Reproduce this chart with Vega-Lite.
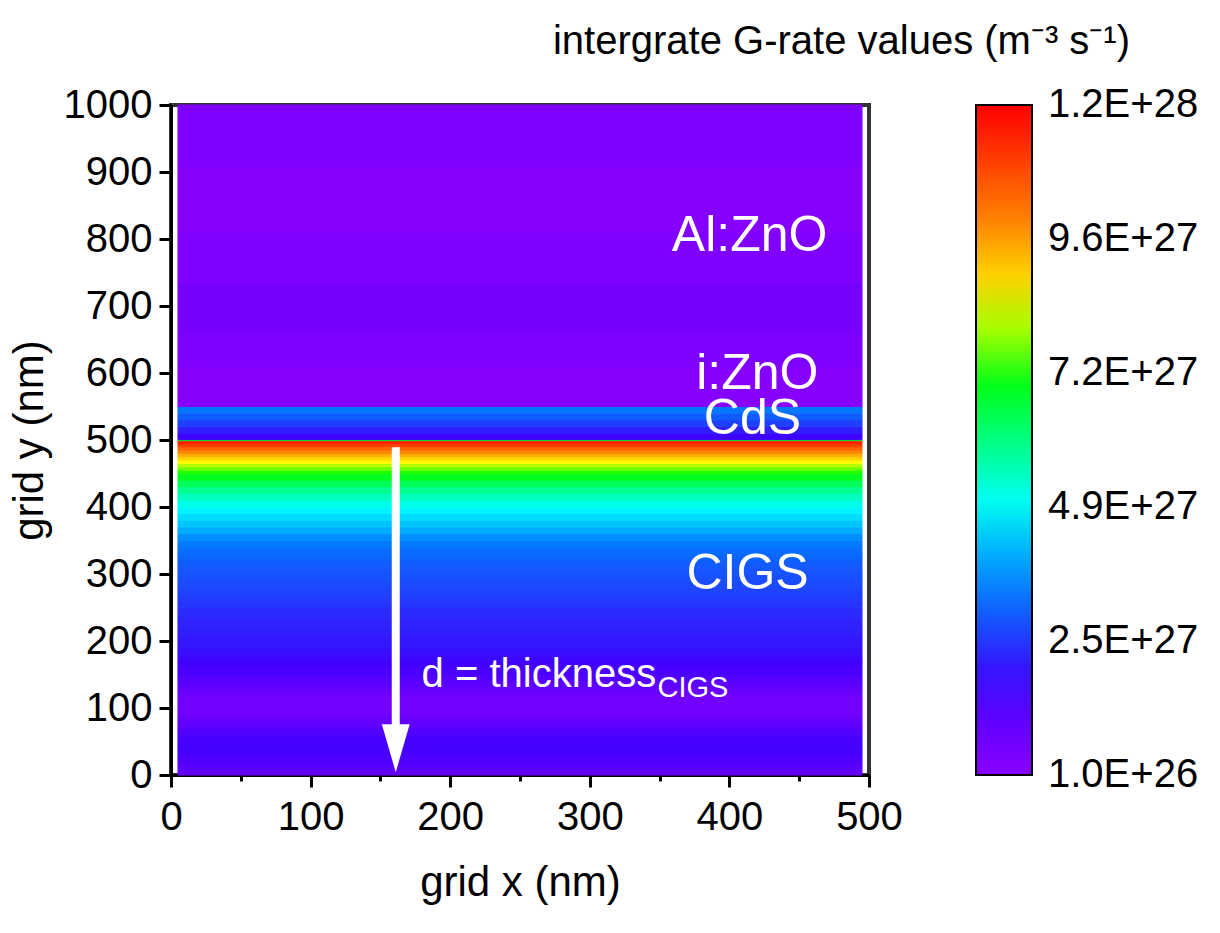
{
  "$schema": "https://vega.github.io/schema/vega-lite/v6.json",
  "width": 698,
  "height": 670,
  "autosize": {"type": "none"},
  "padding": {"left": 171, "top": 105, "right": 351, "bottom": 158},
  "background": "white",
  "config": {
    "font": "Liberation Sans",
    "view": {"stroke": "#333333", "strokeWidth": 4}
  },
  "title": {
    "text": "intergrate G-rate values (m⁻³ s⁻¹)",
    "anchor": "end",
    "frame": "group",
    "dx": 261,
    "dy": 14,
    "offset": 5,
    "fontSize": 40,
    "fontWeight": "normal",
    "color": "black",
    "baseline": "alphabetic"
  },
  "datasets": {
    "heat": [
      {"x0": 5, "x1": 495, "y0": 0, "y1": 5, "g": 9e26},
      {"x0": 5, "x1": 495, "y0": 5, "y1": 10, "g": 1.0e27},
      {"x0": 5, "x1": 495, "y0": 10, "y1": 20, "g": 1.2e27},
      {"x0": 5, "x1": 495, "y0": 20, "y1": 30, "g": 1.45e27},
      {"x0": 5, "x1": 495, "y0": 30, "y1": 40, "g": 1.6e27},
      {"x0": 5, "x1": 495, "y0": 40, "y1": 50, "g": 1.7e27},
      {"x0": 5, "x1": 495, "y0": 50, "y1": 60, "g": 1.6e27},
      {"x0": 5, "x1": 495, "y0": 60, "y1": 70, "g": 1.35e27},
      {"x0": 5, "x1": 495, "y0": 70, "y1": 80, "g": 1.05e27},
      {"x0": 5, "x1": 495, "y0": 80, "y1": 90, "g": 8.5e26},
      {"x0": 5, "x1": 495, "y0": 90, "y1": 100, "g": 6.5e26},
      {"x0": 5, "x1": 495, "y0": 100, "y1": 110, "g": 6e26},
      {"x0": 5, "x1": 495, "y0": 110, "y1": 120, "g": 6.5e26},
      {"x0": 5, "x1": 495, "y0": 120, "y1": 130, "g": 8.5e26},
      {"x0": 5, "x1": 495, "y0": 130, "y1": 140, "g": 1.1e27},
      {"x0": 5, "x1": 495, "y0": 140, "y1": 150, "g": 1.35e27},
      {"x0": 5, "x1": 495, "y0": 150, "y1": 160, "g": 1.55e27},
      {"x0": 5, "x1": 495, "y0": 160, "y1": 170, "g": 1.7e27},
      {"x0": 5, "x1": 495, "y0": 170, "y1": 180, "g": 1.85e27},
      {"x0": 5, "x1": 495, "y0": 180, "y1": 190, "g": 1.95e27},
      {"x0": 5, "x1": 495, "y0": 190, "y1": 200, "g": 2.0e27},
      {"x0": 5, "x1": 495, "y0": 200, "y1": 210, "g": 2.05e27},
      {"x0": 5, "x1": 495, "y0": 210, "y1": 220, "g": 2.1e27},
      {"x0": 5, "x1": 495, "y0": 220, "y1": 230, "g": 2.15e27},
      {"x0": 5, "x1": 495, "y0": 230, "y1": 240, "g": 2.2e27},
      {"x0": 5, "x1": 495, "y0": 240, "y1": 250, "g": 2.25e27},
      {"x0": 5, "x1": 495, "y0": 250, "y1": 260, "g": 2.35e27},
      {"x0": 5, "x1": 495, "y0": 260, "y1": 270, "g": 2.45e27},
      {"x0": 5, "x1": 495, "y0": 270, "y1": 280, "g": 2.55e27},
      {"x0": 5, "x1": 495, "y0": 280, "y1": 290, "g": 2.65e27},
      {"x0": 5, "x1": 495, "y0": 290, "y1": 300, "g": 2.75e27},
      {"x0": 5, "x1": 495, "y0": 300, "y1": 310, "g": 2.85e27},
      {"x0": 5, "x1": 495, "y0": 310, "y1": 320, "g": 2.95e27},
      {"x0": 5, "x1": 495, "y0": 320, "y1": 330, "g": 3.1e27},
      {"x0": 5, "x1": 495, "y0": 330, "y1": 340, "g": 3.25e27},
      {"x0": 5, "x1": 495, "y0": 340, "y1": 350, "g": 3.45e27},
      {"x0": 5, "x1": 495, "y0": 350, "y1": 360, "g": 3.7e27},
      {"x0": 5, "x1": 495, "y0": 360, "y1": 370, "g": 4.0e27},
      {"x0": 5, "x1": 495, "y0": 370, "y1": 380, "g": 4.25e27},
      {"x0": 5, "x1": 495, "y0": 380, "y1": 390, "g": 4.5e27},
      {"x0": 5, "x1": 495, "y0": 390, "y1": 400, "g": 4.75e27},
      {"x0": 5, "x1": 495, "y0": 400, "y1": 410, "g": 5.05e27},
      {"x0": 5, "x1": 495, "y0": 410, "y1": 420, "g": 5.45e27},
      {"x0": 5, "x1": 495, "y0": 420, "y1": 430, "g": 5.9e27},
      {"x0": 5, "x1": 495, "y0": 430, "y1": 440, "g": 6.4e27},
      {"x0": 5, "x1": 495, "y0": 440, "y1": 450, "g": 6.95e27},
      {"x0": 5, "x1": 495, "y0": 450, "y1": 455, "g": 7.4e27},
      {"x0": 5, "x1": 495, "y0": 455, "y1": 460, "g": 7.75e27},
      {"x0": 5, "x1": 495, "y0": 460, "y1": 465, "g": 8.1e27},
      {"x0": 5, "x1": 495, "y0": 465, "y1": 470, "g": 8.5e27},
      {"x0": 5, "x1": 495, "y0": 470, "y1": 475, "g": 8.9e27},
      {"x0": 5, "x1": 495, "y0": 475, "y1": 480, "g": 9.4e27},
      {"x0": 5, "x1": 495, "y0": 480, "y1": 485, "g": 9.9e27},
      {"x0": 5, "x1": 495, "y0": 485, "y1": 490, "g": 1.04e28},
      {"x0": 5, "x1": 495, "y0": 490, "y1": 495, "g": 1.1e28},
      {"x0": 5, "x1": 495, "y0": 495, "y1": 499, "g": 1.15e28},
      {"x0": 5, "x1": 495, "y0": 499, "y1": 500.5, "g": 7.0e27},
      {"x0": 5, "x1": 495, "y0": 500.5, "y1": 510, "g": 1.8e27},
      {"x0": 5, "x1": 495, "y0": 510, "y1": 520, "g": 2.1e27},
      {"x0": 5, "x1": 495, "y0": 520, "y1": 530, "g": 2.5e27},
      {"x0": 5, "x1": 495, "y0": 530, "y1": 540, "g": 2.95e27},
      {"x0": 5, "x1": 495, "y0": 540, "y1": 550, "g": 3.4e27},
      {"x0": 5, "x1": 495, "y0": 550, "y1": 610, "g": 2.0e26},
      {"x0": 5, "x1": 495, "y0": 610, "y1": 660, "g": 3.8e26},
      {"x0": 5, "x1": 495, "y0": 660, "y1": 735, "g": 5.3e26},
      {"x0": 5, "x1": 495, "y0": 735, "y1": 810, "g": 3.5e26},
      {"x0": 5, "x1": 495, "y0": 810, "y1": 908, "g": 1.8e26},
      {"x0": 5, "x1": 495, "y0": 908, "y1": 1000, "g": 3.3e26}
    ],
    "layers": [
      {"label": "Al:ZnO", "x": 414.5, "y": 781.5},
      {"label": "i:ZnO", "x": 420, "y": 575.5},
      {"label": "CdS", "x": 416.5, "y": 508.5},
      {"label": "CIGS", "x": 413, "y": 277}
    ],
    "dlabel": [{"label": "d = thickness", "x": 179.5, "y": 131}],
    "sublabel": [{"label": "CIGS", "x": 348.5, "y": 116}],
    "arrow": [{"x": 161, "ytop": 489, "ybot": 60, "yhead": 40}]
  },
  "layer": [
    {
      "data": {"name": "heat"},
      "mark": {"type": "rect", "strokeWidth": 1},
      "encoding": {
        "x": {
          "field": "x0", "type": "quantitative",
          "scale": {"domain": [0, 500], "nice": false, "zero": false},
          "axis": {
            "title": "grid x (nm)",
            "values": [0, 50, 100, 150, 200, 250, 300, 350, 400, 450, 500],
            "format": "d",
            "labelExpr": "datum.value % 100 === 0 ? datum.label : ''",
            "tickSize": {"condition": {"test": "datum.value % 100 === 0", "value": 12}, "value": 6},
            "tickWidth": 3, "tickColor": "black",
            "domainWidth": 3, "domainColor": "black",
            "grid": false,
            "labelFontSize": 40, "labelColor": "black", "labelPadding": 10,
            "labelFlush": false, "labelOverlap": false,
            "titleFontSize": 42, "titleFontWeight": "normal", "titleColor": "black", "titlePadding": 25
          }
        },
        "x2": {"field": "x1"},
        "y": {
          "field": "y0", "type": "quantitative",
          "scale": {"domain": [0, 1000], "nice": false, "zero": false},
          "axis": {
            "title": "grid y (nm)",
            "values": [0, 50, 100, 150, 200, 250, 300, 350, 400, 450, 500, 550, 600, 650, 700, 750, 800, 850, 900, 950, 1000],
            "format": "d",
            "labelExpr": "datum.value % 100 === 0 ? datum.label : ''",
            "tickSize": {"condition": {"test": "datum.value % 100 === 0", "value": 12}, "value": 6},
            "tickWidth": 3, "tickColor": "black",
            "domainWidth": 3, "domainColor": "black",
            "grid": false,
            "labelFontSize": 40, "labelColor": "black", "labelPadding": 7,
            "labelFlush": false, "labelOverlap": false,
            "titleFontSize": 42, "titleFontWeight": "normal", "titleColor": "black", "titlePadding": 12
          }
        },
        "y2": {"field": "y1"},
        "color": {
          "field": "g", "type": "quantitative",
          "scale": {
            "domain": [1e26, 1.766e27, 2.48e27, 3.551e27, 4.86e27, 7.24e27, 8.43e27, 9.977e27, 1.2e28],
            "range": ["#8a00ff", "#4000ff", "#2040ff", "#0080ff", "#00ffff", "#00ff00", "#ffff00", "#ff8000", "#ff0000"],
            "interpolate": "rgb",
            "clamp": true
          },
          "legend": {
            "type": "gradient",
            "orient": "none",
            "legendX": 805,
            "legendY": 0,
            "padding": 0,
            "direction": "vertical",
            "title": null,
            "gradientLength": 670,
            "gradientThickness": 56,
            "gradientStrokeColor": "black",
            "gradientStrokeWidth": 2,
            "values": [1e26, 2.48e27, 4.86e27, 7.24e27, 9.62e27, 1.2e28],
            "labelExpr": "upper(format(datum.value, '.1e'))",
            "labelFontSize": 40,
            "labelColor": "black",
            "labelOffset": 16,
            "labelOverlap": false,
            "encode": {
              "labels": {
                "enter": {"baseline": {"value": "middle"}},
                "update": {"baseline": {"value": "middle"}}
              }
            }
          }
        },
        "stroke": {
          "field": "g", "type": "quantitative",
          "scale": {
            "domain": [1.00001e26, 1.766e27, 2.48e27, 3.551e27, 4.86e27, 7.24e27, 8.43e27, 9.977e27, 1.2e28],
            "range": ["#8a00ff", "#4000ff", "#2040ff", "#0080ff", "#00ffff", "#00ff00", "#ffff00", "#ff8000", "#ff0000"],
            "interpolate": "rgb",
            "clamp": true
          },
          "legend": null
        }
      }
    },
    {
      "data": {"name": "layers"},
      "mark": {"type": "text", "fontSize": 50, "color": "white", "align": "center", "baseline": "alphabetic"},
      "encoding": {
        "x": {"field": "x", "type": "quantitative"},
        "y": {"field": "y", "type": "quantitative"},
        "text": {"field": "label"}
      }
    },
    {
      "data": {"name": "dlabel"},
      "mark": {"type": "text", "fontSize": 40, "color": "white", "align": "left", "baseline": "alphabetic"},
      "encoding": {
        "x": {"field": "x", "type": "quantitative"},
        "y": {"field": "y", "type": "quantitative"},
        "text": {"field": "label"}
      }
    },
    {
      "data": {"name": "sublabel"},
      "mark": {"type": "text", "fontSize": 29, "color": "white", "align": "left", "baseline": "alphabetic"},
      "encoding": {
        "x": {"field": "x", "type": "quantitative"},
        "y": {"field": "y", "type": "quantitative"},
        "text": {"field": "label"}
      }
    },
    {
      "data": {"name": "arrow"},
      "mark": {"type": "rule", "color": "white", "strokeWidth": 8},
      "encoding": {
        "x": {"field": "x", "type": "quantitative"},
        "y": {"field": "ytop", "type": "quantitative"},
        "y2": {"field": "ybot"}
      }
    },
    {
      "data": {"name": "arrow"},
      "mark": {"type": "point", "filled": true, "color": "white", "opacity": 1, "size": 2304, "shape": "M-0.58,-1L0.58,-1L0,1Z", "strokeWidth": 0},
      "encoding": {
        "x": {"field": "x", "type": "quantitative"},
        "y": {"field": "yhead", "type": "quantitative"}
      }
    }
  ]
}
